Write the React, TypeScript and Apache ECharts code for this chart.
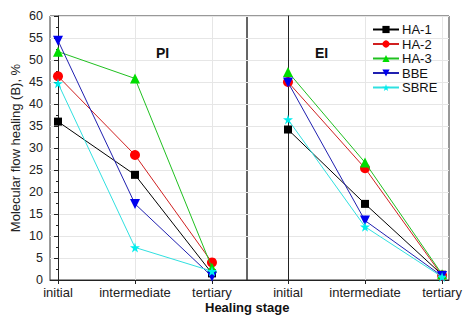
import React, { useEffect, useRef } from "react";
import * as echarts from "echarts";

const categories = ["initial", "intermediate", "tertiary"];
const seriesNames = ["HA-1", "HA-2", "HA-3", "BBE", "SBRE"];
const colors = ["#000000", "#ff0000", "#00dd00", "#0000ee", "#00eeee"];
const lineColors = ["#000000", "#d02020", "#20c020", "#2020b0", "#30e0e0"];

const piHA1 = [36.0, 23.9, 1.5];
const piHA2 = [46.3, 28.4, 4.0];
const piHA3 = [51.9, 45.8, 2.8];
const piBBE = [54.4, 17.3, 0.8];
const piSBRE = [44.7, 7.4, 2.0];

const eiHA1 = [34.2, 17.3, 1.2];
const eiHA2 = [45.0, 25.4, 1.0];
const eiHA3 = [47.3, 26.7, 1.3];
const eiBBE = [44.9, 13.5, 0.9];
const eiSBRE = [36.5, 12.1, 0.7];

const yTicks = [0, 5, 10, 15, 20, 25, 30, 35, 40, 45, 50, 55, 60];

const STAR = "path://M50,0 L61,35 L98,35 L68,57 L79,91 L50,70 L21,91 L32,57 L2,35 L39,35 Z";
const symbols = ["rect", "circle", "triangle", "triangle", STAR];
const rotations = [0, 0, 0, 180, 0];
const sizes = [8, 10, 10, 10, 10];

export default function App() {
  const ref = useRef<HTMLDivElement>(null);
  useEffect(() => {
    document.body.style.margin = "0";
    const chart = echarts.init(ref.current!, null, { renderer: "svg" });
    const pi = [piHA1, piHA2, piHA3, piBBE, piSBRE];
    const ei = [eiHA1, eiHA2, eiHA3, eiBBE, eiSBRE];
    const font = "Arial, 'Liberation Sans', sans-serif";

    const mkX = (gridIndex: number, min: number, max: number) => ({
      type: "value",
      gridIndex,
      min,
      max,
      axisLine: { show: true, lineStyle: { color: "#222", width: 1 } },
      axisTick: { show: true, inside: false, length: 4, customValues: [0, 1, 2], lineStyle: { color: "#222" } },
      axisLabel: {
        customValues: [0, 1, 2],
        formatter: (v: number) => categories[Math.round(v)] ?? "",
        color: "#222",
        fontSize: 13,
        fontFamily: font,
        margin: 6,
      },
      splitLine: { show: true, lineStyle: { color: "#e6e6e6", width: 1 } },
    });
    const mkY = (gridIndex: number, show: boolean) => ({
      type: "value",
      gridIndex,
      min: 0,
      max: 60,
      interval: 5,
      name: show ? "Molecular flow healing (B), %" : "",
      nameLocation: "middle",
      nameGap: 28,
      nameTextStyle: { color: "#222", fontSize: 13, fontFamily: font },
      axisLine: { show: true, lineStyle: { color: "#222", width: 1 } },
      axisTick: { show: show, inside: false, length: 4, lineStyle: { color: "#222" } },
      minorTick: { show: show, splitNumber: 2, length: 2, lineStyle: { color: "#222" } },
      axisLabel: {
        show,
        color: "#222",
        fontSize: 12.5,
        fontFamily: font,
        margin: 7,
        customValues: yTicks,
      },
      splitLine: { show: true, lineStyle: { color: "#e6e6e6", width: 1 } },
    });

    const series: any[] = [];
    [pi, ei].forEach((set, gi) => {
      set.forEach((vals, si) => {
        series.push({
          type: "line",
          name: seriesNames[si],
          xAxisIndex: gi,
          yAxisIndex: gi,
          data: vals.map((v, i) => [i, v]),
          symbol: symbols[si],
          symbolRotate: rotations[si],
          symbolSize: sizes[si],
          showAllSymbol: true,
          lineStyle: { color: lineColors[si], width: 1 },
          itemStyle: { color: colors[si] },
          z: 2 + si,
        });
      });
    });

    chart.setOption({
      animation: false,
      backgroundColor: "#fff",
      grid: [
        { left: 50, top: 16, width: 197, height: 264, show: true, borderColor: "#333", borderWidth: 1, backgroundColor: "transparent" },
        { left: 247, top: 16, width: 202, height: 264, show: true, borderColor: "#333", borderWidth: 1, backgroundColor: "transparent" },
      ],
      xAxis: [mkX(0, -0.104, 2.455), mkX(1, -0.532, 2.09)],
      yAxis: [mkY(0, true), mkY(1, false)],
      legend: {
        orient: "vertical",
        left: 367,
        top: 18,
        itemWidth: 26,
        itemHeight: 9,
        itemGap: 1.5,
        data: seriesNames,
        textStyle: { color: "#111", fontSize: 13, fontFamily: font, padding: [0, 0, 0, -2] },
      },
      graphic: [
        { type: "text", left: 156, top: 46, style: { text: "PI", font: `bold 14px ${font}`, fill: "#111" } },
        { type: "text", left: 315, top: 46, style: { text: "EI", font: `bold 14px ${font}`, fill: "#111" } },
        { type: "text", left: 205, top: 301, style: { text: "Healing stage", font: `bold 13px ${font}`, fill: "#111" } },
      ],
      series,
    });
    return () => chart.dispose();
  }, []);
  return <div ref={ref} style={{ width: 474, height: 327 }} />;
}
